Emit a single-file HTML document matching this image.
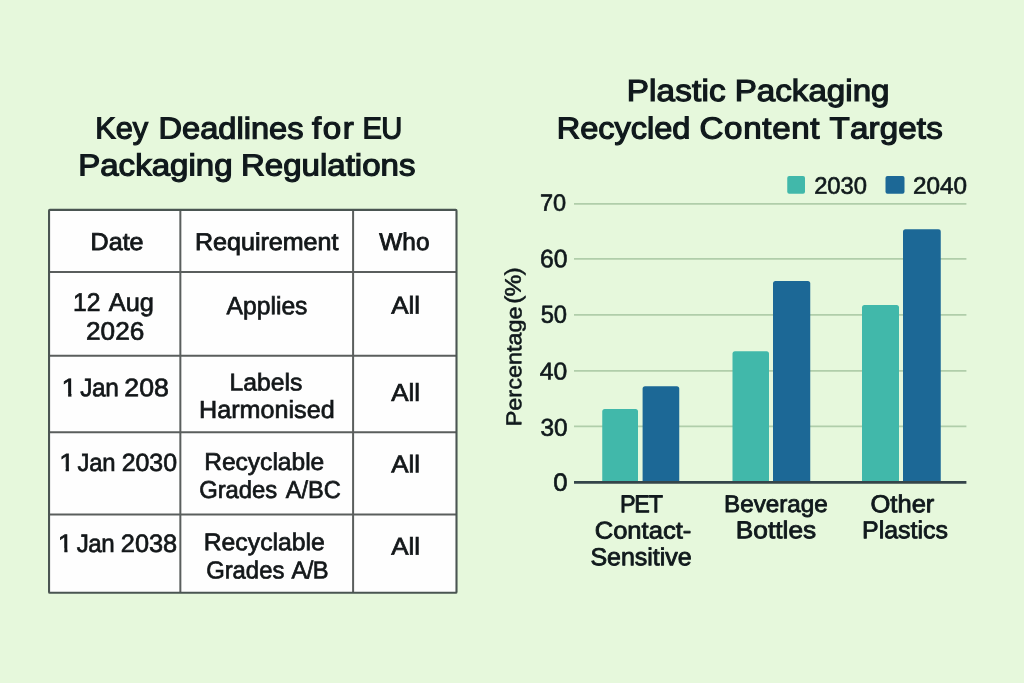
<!DOCTYPE html>
<html lang="en">
<head>
<meta charset="utf-8">
<title>Key Deadlines for EU Packaging Regulations</title>
<style>
  html, body { margin: 0; padding: 0; }
  body { width: 1024px; height: 683px; overflow: hidden; position: relative; background: #e6f8dc;
         font-family: "Liberation Sans", sans-serif; color: #10191c; font-kerning: none;
         font-variant-ligatures: none; text-rendering: geometricPrecision; }
  h1, h2 { margin: 0; font-weight: 400; font-size: inherit; }
  .panel { position: absolute; left: 0; top: 0; width: 512px; height: 683px; }
  .panel.right { left: 512px; }
  .ln { position: absolute; left: 0; top: 0; white-space: nowrap; line-height: 1; display: block; }
  .w { display: inline-block; transform-origin: 0 0; }
  .title .w { -webkit-text-stroke: 1.2px #10191c; }
  table { position: absolute; left: 49px; top: 210px; border-collapse: collapse; border-spacing: 0;
          table-layout: fixed; color: #131719; }
  th, td { padding: 0; font-weight: 400; border: 0; }
  td .w { -webkit-text-stroke: 0.7px #131719; }
  th .w { -webkit-text-stroke: 0.85px #131719; }
  svg { position: absolute; left: 0; top: 0; }
  svg text { font-family: "Liberation Sans", sans-serif; fill: #10191c; stroke: #10191c; stroke-width: 0.85px; stroke-linejoin: round; text-rendering: geometricPrecision; }
  svg text.num { stroke-width: 0.65px; }
  svg text.ytitle { stroke-width: 0.55px; }
</style>
</head>
<body>
<section class="panel left">
  <h1 class="title">
    <span class="ln" style="font-size:30.38px"><span class="w" style="transform:matrix(1.0099,0.0005,0,1,95.34,113.6)">Key</span> <span class="w" style="transform:matrix(1.073,0.0005,0,1,97.57,113.6)">Deadlines</span> <span class="w" style="transform:matrix(1.09,0.0005,0,1,108.09,113.6);letter-spacing:1.453px">for</span> <span class="w" style="transform:matrix(0.96,0.0005,0,1,109.58,113.6);letter-spacing:-0.857px">EU</span></span>
    <span class="ln" style="font-size:30.52px"><span class="w" style="transform:matrix(1.0831,0.0005,0,1,78.19,150.48)">Packaging</span> <span class="w" style="transform:matrix(1.0831,0.0005,0,1,89.94,150.48)">Regulations</span></span>
  </h1>
  <svg class="grid" width="512" height="683" viewBox="0 0 512 683" aria-hidden="true">
    <rect x="49.05" y="209.9" width="407.45" height="382.9" fill="#fefefe"/>
    <g stroke="#5a5e5d" stroke-width="2" fill="none">
      <line x1="49.05" x2="456.5" y1="271.9" y2="271.9"/>
      <line x1="49.05" x2="456.5" y1="355.85" y2="355.85"/>
      <line x1="49.05" x2="456.5" y1="432.35" y2="432.35"/>
      <line x1="49.05" x2="456.5" y1="514.45" y2="514.45"/>
      <line x1="180.35" x2="180.35" y1="209.9" y2="592.8"/>
      <line x1="353.1" x2="353.1" y1="209.9" y2="592.8"/>
    </g>
    <rect x="49.05" y="209.9" width="407.45" height="382.9" rx="0.8" fill="none" stroke="#4a5552" stroke-width="2.1"/>
  </svg>
  <table>
    <colgroup><col style="width:131px"><col style="width:173px"><col style="width:103px"></colgroup>
    <thead>
      <tr style="height:62px">
        <th><span class="ln" style="font-size:24.35px"><span class="w" style="transform:matrix(1.0305,0.0005,0,1,41.58,21.08)">Date</span></span></th>
        <th><span class="ln" style="font-size:24.2px"><span class="w" style="transform:matrix(1.0361,0.0005,0,1,145.98,20.95)">Requirement</span></span></th>
        <th><span class="ln" style="font-size:24.2px"><span class="w" style="transform:matrix(1.0083,0.0005,0,1,330.32,20.95)">Who</span></span></th>
      </tr>
    </thead>
    <tbody>
      <tr style="height:84px">
        <td><span class="ln" style="font-size:25.58px"><span class="w" style="transform:matrix(0.9645,0.0005,0,1,23.96,80.97)">12</span> <span class="w" style="transform:matrix(0.9928,0.0005,0,1,23.8,80.97)">Aug</span></span> <span class="ln" style="font-size:25.42px"><span class="w" style="transform:matrix(1.0317,0.0005,0,1,37.04,109.77)">2026</span></span></td>
        <td><span class="ln" style="font-size:25px"><span class="w" style="transform:matrix(0.9872,0.0005,0,1,177.5,84.13)">Applies</span></span></td>
        <td><span class="ln" style="font-size:24.56px"><span class="w" style="transform:matrix(1.0567,0.0005,0,1,342.22,84.66)">All</span></span></td>
      </tr>
      <tr style="height:76px">
        <td><span class="ln" style="font-size:25.44px"><span class="w" style="transform:matrix(1.1,0.0005,0,1,12.51,166.36);clip-path:polygon(0 0,9.02px 0,9.02px 200%,6.02px 200%,6.02px 16.54px,0 16.54px)">1</span> <span class="w" style="transform:matrix(0.96,0.0005,0,1,10.15,166.36);letter-spacing:-0.3px">Jan</span> <span class="w" style="transform:matrix(1.0502,0.0005,0,1,7.32,166.36)">208</span></span></td>
        <td><span class="ln" style="font-size:24.27px"><span class="w" style="transform:matrix(1.0186,0.0005,0,1,180.58,161.4)">Labels</span></span> <span class="ln" style="font-size:24.71px"><span class="w" style="transform:matrix(1.0185,0.0005,0,1,149.99,189.01)">Harmonised</span></span></td>
        <td><span class="ln" style="font-size:24.71px"><span class="w" style="transform:matrix(1.0507,0.0005,0,1,342.22,172.05)">All</span></span></td>
      </tr>
      <tr style="height:82px">
        <td><span class="ln" style="font-size:24.86px"><span class="w" style="transform:matrix(1.1,0.0005,0,1,10.22,241);clip-path:polygon(0 0,8.83px 0,8.83px 200%,5.87px 200%,5.87px 16.65px,0 16.65px)">1</span> <span class="w" style="transform:matrix(0.96,0.0005,0,1,7.56,241);letter-spacing:-0.297px">Jan</span> <span class="w" style="transform:matrix(1.0005,0.0005,0,1,5.7,241)">2030</span></span></td>
        <td><span class="ln" style="font-size:24.42px"><span class="w" style="transform:matrix(1.0064,0.0005,0,1,155.14,241.07)">Recyclable</span></span> <span class="ln" style="font-size:24.42px"><span class="w" style="transform:matrix(0.9763,0.0005,0,1,150.14,268.97)">Grades</span> <span class="w" style="transform:matrix(0.9662,0.0005,0,1,149.79,268.97)">A/BC</span></span></td>
        <td><span class="ln" style="font-size:24.42px"><span class="w" style="transform:matrix(1.0628,0.0005,0,1,342.22,243.54)">All</span></span></td>
      </tr>
      <tr style="height:79px">
        <td><span class="ln" style="font-size:25.15px"><span class="w" style="transform:matrix(1.1,0.0005,0,1,8.81,321.94);clip-path:polygon(0 0,8.93px 0,8.93px 200%,5.94px 200%,5.94px 16.28px,0 16.28px)">1</span> <span class="w" style="transform:matrix(0.96,0.0005,0,1,6.71,321.94);letter-spacing:-0.468px">Jan</span> <span class="w" style="transform:matrix(1.0068,0.0005,0,1,4.83,321.94)">2038</span></span></td>
        <td><span class="ln" style="font-size:24.27px"><span class="w" style="transform:matrix(1.0201,0.0005,0,1,154.73,321.13)">Recyclable</span></span> <span class="ln" style="font-size:24.71px"><span class="w" style="transform:matrix(0.9649,0.0005,0,1,157.14,349.59)">Grades</span> <span class="w" style="transform:matrix(0.96,0.0005,0,1,154.59,349.59);letter-spacing:-0.682px">A/B</span></span></td>
        <td><span class="ln" style="font-size:24.42px"><span class="w" style="transform:matrix(1.0628,0.0005,0,1,342.22,325.8)">All</span></span></td>
      </tr>
    </tbody>
  </table>
</section>
<section class="panel right">
  <h2 class="title">
    <span class="ln" style="font-size:30.52px"><span class="w" style="transform:matrix(1.09,0.0005,0,1,114.67,75.93);letter-spacing:0.161px">Plastic</span> <span class="w" style="transform:matrix(1.0867,0.0005,0,1,122.68,75.93)">Packaging</span></span>
    <span class="ln" style="font-size:30.38px"><span class="w" style="transform:matrix(1.0703,0.0005,0,1,44.72,113.53)">Recycled</span> <span class="w" style="transform:matrix(1.09,0.0005,0,1,54.47,113.53);letter-spacing:0.633px">Content</span> <span class="w" style="transform:matrix(1.09,0.0005,0,1,64.51,113.53);letter-spacing:0.157px">Targets</span></span>
  </h2>
</section>
<svg width="1024" height="683" viewBox="0 0 1024 683" role="img" aria-label="Plastic packaging recycled content targets bar chart">
  <g stroke="#b0ceaa" stroke-width="1.8" fill="none">
    <line x1="574" x2="966.4" y1="203.9" y2="203.9"/>
    <line x1="574" x2="966.4" y1="258.9" y2="258.9"/>
    <line x1="574" x2="966.4" y1="314.9" y2="314.9"/>
    <line x1="574" x2="966.4" y1="370.8" y2="370.8"/>
    <line x1="574" x2="966.4" y1="426.4" y2="426.4"/>
  </g>
  <g>
    <path fill="#41b8aa" d="M602.25 481.5V411.5a2.5 2.5 0 0 1 2.5 -2.5H635.5a2.5 2.5 0 0 1 2.5 2.5V481.5z"/>
    <path fill="#1c6896" d="M642.6 481.5V388.75a2.5 2.5 0 0 1 2.5 -2.5H676.75a2.5 2.5 0 0 1 2.5 2.5V481.5z"/>
    <path fill="#41b8aa" d="M732.5 481.5V353.75a2.5 2.5 0 0 1 2.5 -2.5H766.5a2.5 2.5 0 0 1 2.5 2.5V481.5z"/>
    <path fill="#1c6896" d="M773 481.5V283.5a2.5 2.5 0 0 1 2.5 -2.5H807.75a2.5 2.5 0 0 1 2.5 2.5V481.5z"/>
    <path fill="#41b8aa" d="M862 481.5V307.4a2.5 2.5 0 0 1 2.5 -2.5H896.5a2.5 2.5 0 0 1 2.5 2.5V481.5z"/>
    <path fill="#1c6896" d="M903 481.5V231.75a2.5 2.5 0 0 1 2.5 -2.5H938.25a2.5 2.5 0 0 1 2.5 2.5V481.5z"/>
  </g>
  <line x1="574" x2="966.4" y1="482.4" y2="482.4" stroke="#34454a" stroke-width="2.7"/>
  <g>
    <rect x="787.25" y="175.9" width="17.75" height="17.9" rx="2" fill="#41b8aa"/>
    <rect x="885.5" y="175.9" width="19" height="17.9" rx="2" fill="#1c6896"/>
    <text class="num" transform="matrix(0.9987 0.0005 0 1 814.13 193.76)" font-size="23.8">2030</text>
    <text class="num" transform="matrix(1.0201 0.0005 0 1 913.11 193.73)" font-size="23.8">2040</text>
  </g>
  <g>
    <text class="num" transform="matrix(1.0007 0.0005 0 1 540.02 210.74)" font-size="23.52">70</text>
    <text class="num" transform="matrix(0.98 0.0005 0 1 540.06 267.23)" font-size="25.21">60</text>
    <text class="num" transform="matrix(0.96 0.0005 0 1 540.66 322.7)" font-size="24.79" style="letter-spacing:-0.115px">50</text>
    <text class="num" transform="matrix(1.0137 0.0005 0 1 539.86 379.47)" font-size="24.36">40</text>
    <text class="num" transform="matrix(1.0011 0.0005 0 1 540.4 435.83)" font-size="24.36">30</text>
    <text class="num" transform="matrix(1.0345 0.0005 0 1 553.23 490.65)" font-size="24.93">0</text>
  </g>
  <text class="ytitle" transform="rotate(-90) matrix(1.0867 0.0005 0 1 -426.33 521.33)" font-size="21.58">Percentage <tspan x="112.69" dy="-0.6" font-size="22.66" style="letter-spacing:-0.757px">(%)</tspan></text>
  <g>
    <text class="cat" transform="matrix(0.96 0.0005 0 1 619.99 512.17)" font-size="24.35" style="letter-spacing:-1.311px">PET</text>
    <text class="cat" transform="matrix(1.064 0.0005 0 1 594.65 538.52)" font-size="24.06">Contact-</text>
    <text class="cat" transform="matrix(1.0142 0.0005 0 1 590.4 565.33)" font-size="24.64">Sensitive</text>
    <text class="cat" transform="matrix(1.0132 0.0005 0 1 724.04 512.03)" font-size="23.91">Beverage</text>
    <text class="cat" transform="matrix(1.0801 0.0005 0 1 735.8 538.17)" font-size="24.35">Bottles</text>
    <text class="cat" transform="matrix(1.0371 0.0005 0 1 870.48 512.31)" font-size="24.64">Other</text>
    <text class="cat" transform="matrix(1.019 0.0005 0 1 861.99 538.17)" font-size="24.49">Plastics</text>
  </g>
</svg>
</body>
</html>
